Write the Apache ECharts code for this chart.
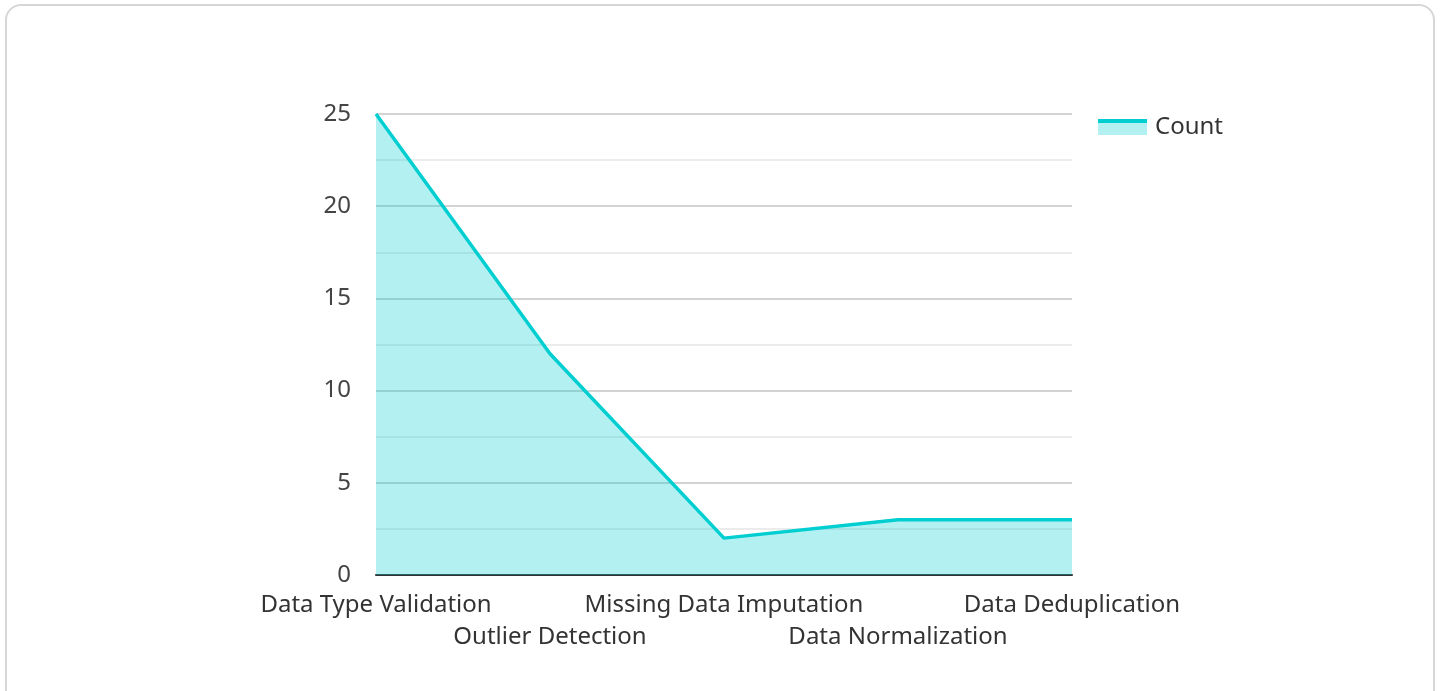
<!DOCTYPE html>
<html>
<head>
<meta charset="utf-8">
<script src="https://cdn.jsdelivr.net/npm/echarts@6/dist/echarts.min.js"></script>
<style>
  html, body { margin: 0; padding: 0; background: #fff; overflow: hidden; }
  #card {
    position: absolute; left: 5px; top: 4px; width: 1430px; height: 710px;
    border: 2px solid #d6d6d6; border-radius: 16px; box-sizing: border-box;
  }
  #main { position: absolute; left: 0; top: 0; width: 1445px; height: 691px; }
</style>
</head>
<body>
<div id="card"></div>
<div id="main"></div>
<script>
// 数据
const categories = ['Data Type Validation', 'Outlier Detection', 'Missing Data Imputation', 'Data Normalization', 'Data Deduplication'];
const counts = [25, 12, 2, 3, 3];
const seriesName = 'Count';

const chart = echarts.init(document.getElementById('main'));

// 图例图标：上面是线，下面是面积
const legendColor = new echarts.graphic.LinearGradient(0, 0, 0, 1, [
  { offset: 0, color: '#00CED1' },
  { offset: 0.28, color: '#00CED1' },
  { offset: 0.28, color: 'rgba(0,206,209,0.3)' },
  { offset: 1, color: 'rgba(0,206,209,0.3)' }
]);

const option = {
  textStyle: { fontFamily: 'Noto Sans' },
  legend: {
    data: [{ name: seriesName, icon: 'rect', itemStyle: { color: legendColor, borderWidth: 0 }, lineStyle: { width: 0 } }],
    left: 1098,
    top: 115,
    padding: 0,
    itemWidth: 49,
    itemHeight: 16,
    itemGap: 10,
    textStyle: { fontSize: 24, color: '#333', fontFamily: 'Noto Sans', padding: [0, 0, 0, 3] }
  },
  grid: { left: 376, right: 373, top: 114, bottom: 116, containLabel: false },
  xAxis: {
    type: 'category',
    data: categories,
    boundaryGap: false,
    axisLine: { lineStyle: { color: '#333', width: 2 } },
    axisTick: { show: false },
    axisLabel: {
      interval: 0,
      margin: 14,
      fontSize: 24,
      lineHeight: 32,
      color: '#333',
      fontFamily: 'Noto Sans',
      formatter: (v, i) => (i % 2 === 1 ? '\n' + v : v)
    },
    splitLine: { show: false }
  },
  yAxis: {
    type: 'value',
    min: 0,
    max: 25,
    interval: 5,
    axisLine: { show: false },
    axisTick: { show: false },
    axisLabel: { fontSize: 24, color: '#444', margin: 25, fontFamily: 'Noto Sans' },
    splitLine: { lineStyle: { color: '#c4c4c4', width: 1.5 } },
    minorTick: { show: false, splitNumber: 2 },
    minorSplitLine: { show: true, lineStyle: { color: '#e6e6e6', width: 1.5 } }
  },
  series: [
    {
      name: seriesName,
      type: 'line',
      data: counts,
      showSymbol: false,
      symbol: 'none',
      lineStyle: { color: '#00CED1', width: 3.5 },
      itemStyle: { color: '#00CED1' },
      areaStyle: { color: '#00CED1', opacity: 0.3 },
      animation: false
    }
  ]
};

chart.setOption(option);
</script>
</body>
</html>
